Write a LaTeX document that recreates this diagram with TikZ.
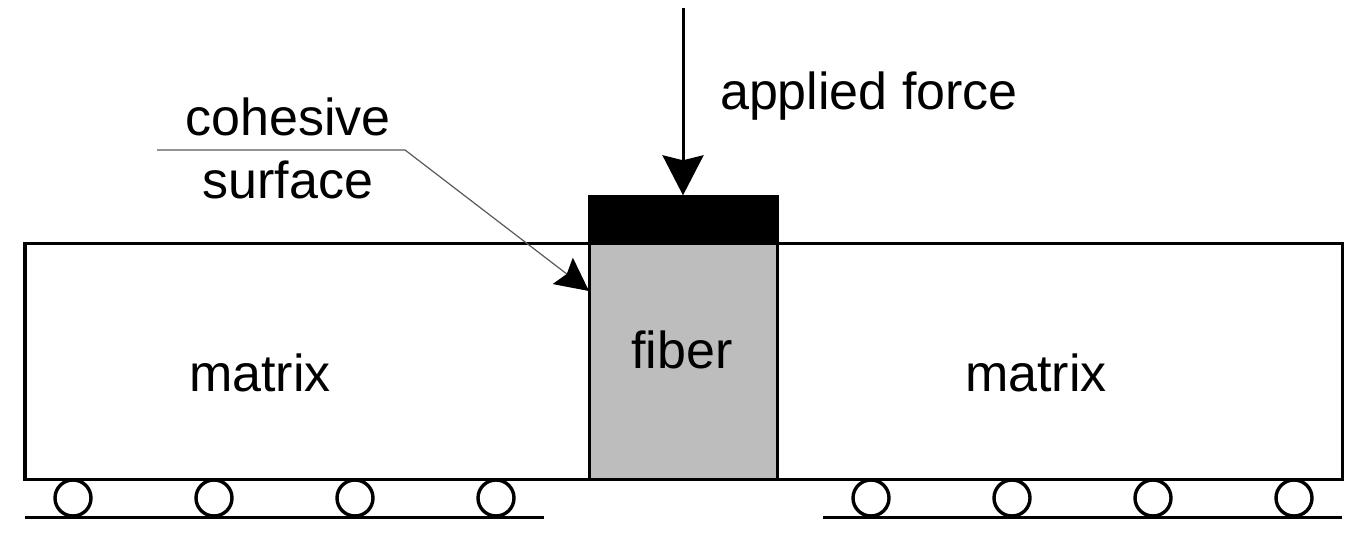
\documentclass[tikz,border=0pt]{standalone}
\usepackage{fontspec}
\setmainfont{Liberation Sans}
\usetikzlibrary{positioning, arrows.meta}
\begin{document}
\begin{tikzpicture}[x=1pt,y=-1pt,
    every node/.style = { align = center, font = \fontsize{52}{63}\selectfont },
    block/.style = { draw, line width = 3.4pt, inner sep = 0pt },
    roller/.style = { draw, line width = 3.4pt, shape = circle, inner sep = 0pt, minimum size = 36pt }]
    \useasboundingbox (0,0) rectangle (1362,538);
    \node [block, minimum width = 565pt, minimum height = 236pt] (matrixl) at (307.5,361.5) {};
    \node [block, minimum width = 565pt, minimum height = 236pt] (matrixr) at (1060,361.5) {};
    \node [block, fill = black!26, minimum width = 188pt, minimum height = 236pt] (fiber) at (683.5,361.5) {};
    \node [block, fill = black, minimum width = 188pt, minimum height = 46pt] (cap) at (683.5,220) {};
    \node at (260,373) {matrix};
    \node at (1036,373) {matrix};
    \node at (682,350) {fiber};
    \node (force) at (869,96) {applied force};
    \node (cohesive) at (288,148) {cohesive\\surface};
    \coordinate (top) at (683,8);
    \coordinate (lblend) at (157,150);
    \coordinate (lblknee) at (405,150);
    \coordinate (hit) at (589,291);
    \draw [line width = 3pt, -{Stealth[length = 40pt, width = 41pt, inset = 5pt]}] (top) -- (cap.north -| top);
    \draw [line width = 1.2pt, black!65, -{Stealth[length = 33pt, width = 33pt, inset = 5pt, black]}] (lblend) -- (lblknee) -- (hit);
    \foreach \x in {73,214,355,496,871,1012,1153,1294}
      \node [roller] (r\x) at (\x,498) {};
    \coordinate (gl) at (25,517);
    \coordinate (gm) at (544,517);
    \coordinate (hl) at (823,517);
    \coordinate (hm) at (1342,517);
    \draw [line width = 3pt] (gl) -- (gm);
    \draw [line width = 3pt] (hl) -- (hm);
\end{tikzpicture}
\end{document}
